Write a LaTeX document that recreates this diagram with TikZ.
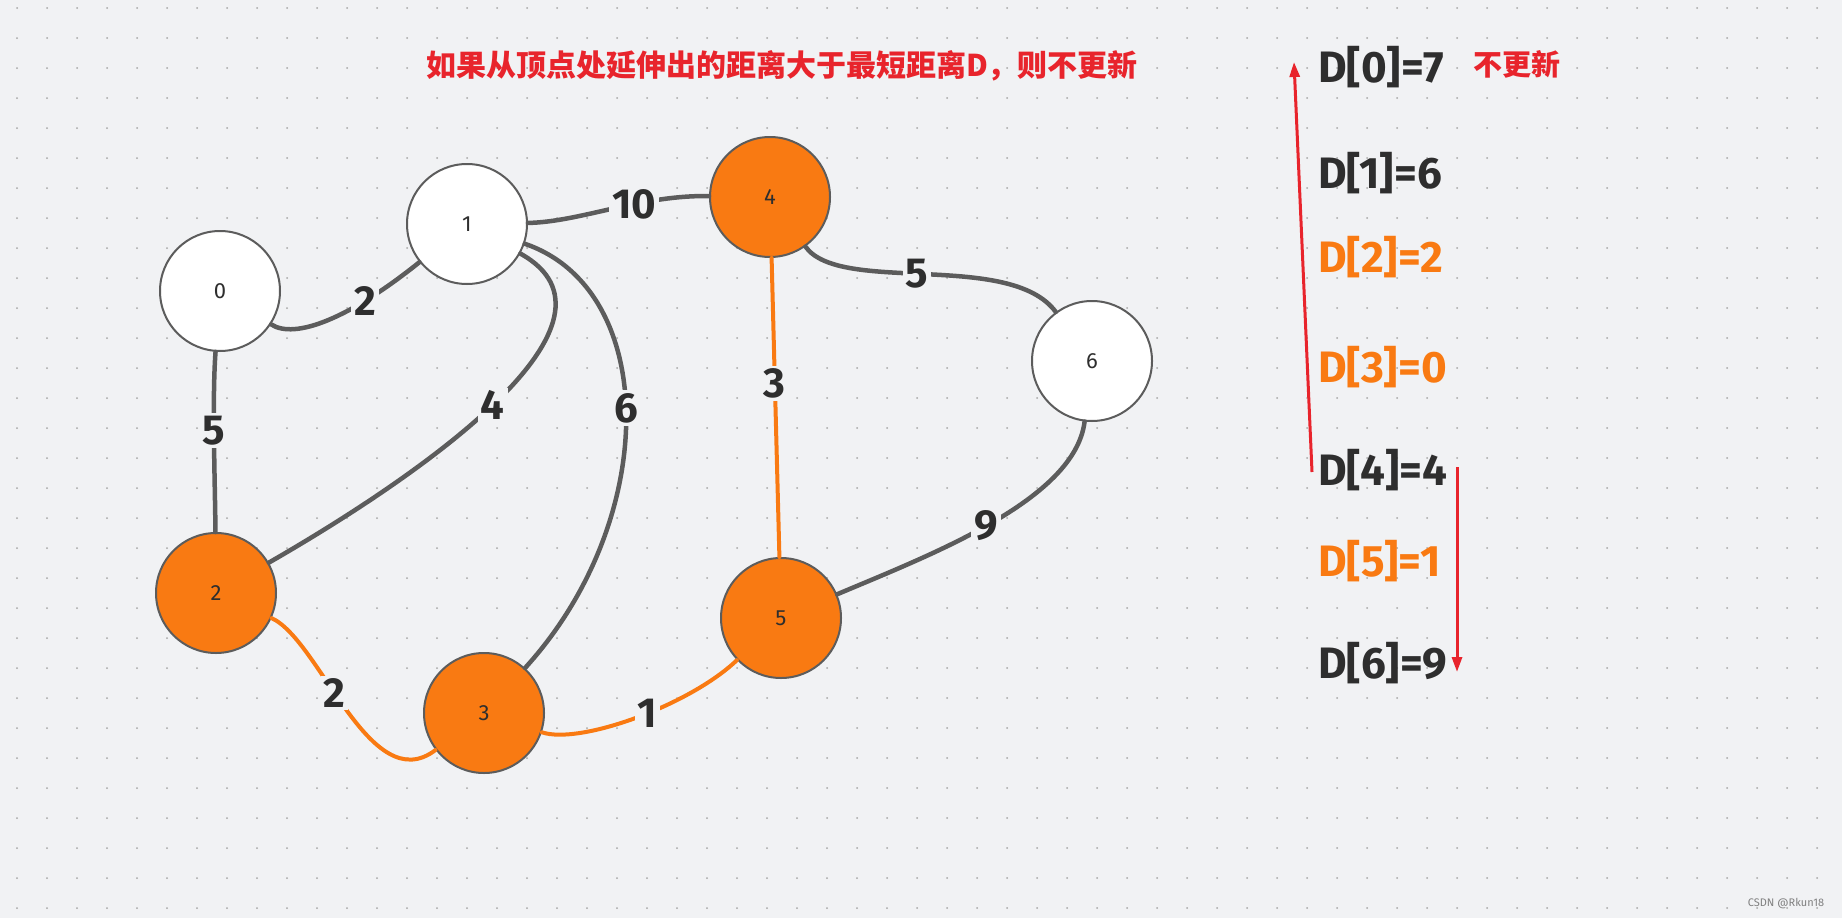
\documentclass[tikz,border=0pt]{standalone}
\usepackage{fontspec}
\setmainfont{Fira Sans}
\newfontfamily\cjk{Noto Sans CJK SC}
\usetikzlibrary{arrows.meta}
\definecolor{bg}{HTML}{F1F2F4}
\definecolor{ink}{HTML}{2E2E2E}
\definecolor{edgegray}{HTML}{5C5C5C}
\definecolor{hot}{HTML}{F97A12}
\definecolor{alert}{HTML}{E8242C}

\begin{document}
\begin{tikzpicture}[x=1pt, y=-1pt, >={Triangle[length=15pt,width=10pt]},
  vertex/.style={draw=edgegray, line width=2pt, circle, minimum size=120pt, inner sep=0pt, fill=white, text=ink, font=\fontsize{22}{22}\selectfont},
  done/.style={vertex, fill=hot},
  road/.style={draw=edgegray, line width=4.5pt, line cap=round},
  best/.style={draw=hot, line width=4pt, line cap=round},
  weight/.style={fill=bg, inner sep=3pt, text=ink, font=\fontsize{42}{42}\selectfont\bfseries},
  dist/.style={anchor=west, inner sep=0pt, text=ink, font=\fontsize{44}{44}\selectfont\bfseries},
  note/.style={text=alert, font=\cjk\bfseries\fontsize{29}{29}\selectfont},
  sweep/.style={->, draw=alert, line width=3pt}]

% Background with dot grid
\fill[bg] (0,0) rectangle (1842,918);
\useasboundingbox (0,0) rectangle (1842,918);
\foreach \i in {0,...,60}
  \foreach \j in {0,...,30}
    \fill[gray!70] ({17+30*\i},{8+30*\j}) circle (1pt);

% Title
\node[note, font=\cjk\bfseries\fontsize{30}{30}\selectfont] (head) at (782,66) {如果从顶点处延伸出的距离大于最短距离D，则不更新};

% Define the nodes with coordinates
\node[vertex] (v0) at (220,291) {0};
\node[vertex] (v1) at (467,224) {1};
\node[done] (v2) at (216,593) {2};
\node[done] (v3) at (484,713) {3};
\node[done] (v4) at (770,197) {4};
\node[done] (v5) at (781,618) {5};
\node[vertex] (v6) at (1092,361) {6};

% Draw the edges with weights
\draw[road] (v0) .. controls (212,400) and (215,480) .. (v2) node[weight, pos=0.45] {5};
\draw[road] (v0) .. controls (295,340) and (350,318) .. (v1) node[weight, pos=0.72] {2};
\draw[road] (v1) .. controls (640,320) and (430,470) .. (v2) node[weight, pos=0.52] {4};
\draw[road] (v1) .. controls (580,222) and (640,195) .. (v4) node[weight, pos=0.62] {10};
\draw[road] (v1) .. controls (660,290) and (660,520) .. (v3) node[weight, pos=0.48] {6};
\draw[road] (v4) .. controls (840,295) and (1010,250) .. (v6) node[weight, pos=0.47] {5};
\draw[road] (v6) .. controls (1075,500) and (930,555) .. (v5) node[weight, pos=0.52] {9};
\draw[best] (v4) -- (v5) node[weight, pos=0.42] {3};
\draw[best] (v2) .. controls (320,640) and (370,800) .. (v3) node[weight, pos=0.42] {2};
\draw[best] (v3) .. controls (580,745) and (690,705) .. (v5) node[weight, pos=0.55] {1};

% Distance table
\node[dist] (d0) at (1318,67) {D[0]=7};
\node[dist] (d1) at (1318,173) {D[1]=6};
\node[dist, text=hot] (d2) at (1318,257) {D[2]=2};
\node[dist, text=hot] (d3) at (1318,367) {D[3]=0};
\node[dist] (d4) at (1318,470) {D[4]=4};
\node[dist, text=hot] (d5) at (1318,561) {D[5]=1};
\node[dist] (d6) at (1318,663) {D[6]=9};
\node[note, anchor=west] (skip) at (1470,64) {不更新};

% Scan arrows
\coordinate (upfrom) at (1312,472);
\coordinate (upto) at (1294,62);
\coordinate (downfrom) at (1457,467);
\coordinate (downto) at (1457,672);
\draw[sweep] (upfrom) -- (upto);
\draw[sweep] (downfrom) -- (downto);

\node[text=gray, font=\fontsize{11}{11}\selectfont] (mark) at (1786,904) {CSDN @Rkun18};

\end{tikzpicture}
\end{document}
